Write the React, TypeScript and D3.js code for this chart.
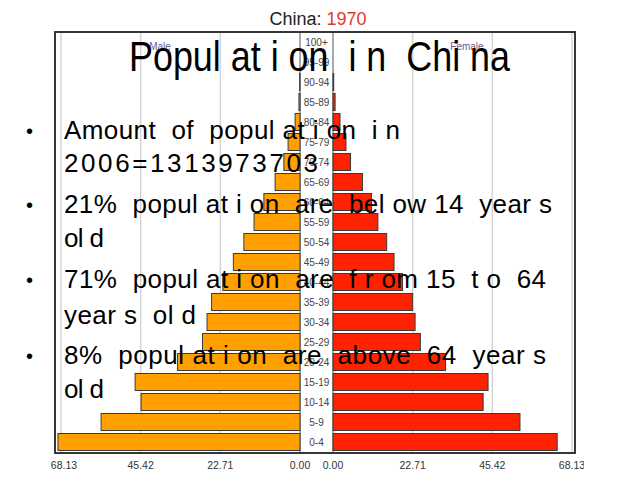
import React from "react";
import * as d3 from "d3";

const ages = ["0-4","5-9","10-14","15-19","20-24","25-29","30-34","35-39","40-44","45-49","50-54","55-59","60-64","65-69","70-74","75-79","80-84","85-89","90-94","95-99","100+"];
const male = [69.0,56.7,45.3,47.0,34.9,27.8,26.5,25.2,22.0,19.0,16.0,13.1,10.3,7.1,4.6,3.4,1.4,0.3,0.1,0,0];
const female = [63.9,53.3,42.8,44.2,32.1,24.9,23.4,22.7,19.8,17.4,15.3,12.8,11.0,8.4,5.0,3.7,2.0,0.6,0.2,0,0];
const tickValues = [0, 22.71, 45.42, 68.13];
const chartTitle = "China: ";
const chartYear = "1970";
const slideTitle = "Popul at i on  i n  Chi na";
const bulletLines = [
  { text: "Amount  of  popul at i on  i n", bullet: true },
  { text: "2006=1313973703", bullet: false },
  { text: "21%  popul at i on  are  bel ow 14  year s", bullet: true },
  { text: "ol d", bullet: false },
  { text: "71%  popul at i on  are  f r om 15  t o  64", bullet: true },
  { text: "year s  ol d", bullet: false },
  { text: "8%  popul at i on  are  above  64  year s", bullet: true },
  { text: "ol d", bullet: false },
];
const lineBaselines = [139, 172, 213, 247, 288, 324, 364, 398];
const lineLengths = [336, 254, 488, 40, 482, 132, 482, 40];

export default function App() {
  const W = 638, H = 478;
  const top = 32, bottom = 452;
  const y = d3.scaleBand<string>().domain([...ages].reverse()).range([top, bottom]).paddingInner(0.15).paddingOuter(0.075);
  const xM = d3.scaleLinear().domain([0, 68.13]).range([300, 61]);
  const xF = d3.scaleLinear().domain([0, 68.13]).range([333, 572]);
  const fmt = d3.format(".2f");
  const font = "'Liberation Sans', Arial, sans-serif";

  return (
    <svg width={W} height={H} style={{ position: "fixed", left: 0, top: 0, background: "#fff" }}>
      <defs>
        <clipPath id="imgclip"><rect x={0} y={0} width={584} height={H} /></clipPath>
      </defs>
      <rect x={0} y={0} width={W} height={H} fill="#fff" />
      <g clipPath="url(#imgclip)">
        <text x={318} y={25} textAnchor="middle" fontFamily={font} fontSize={18}>
          <tspan fill="#222">{chartTitle}</tspan>
          <tspan fill="#e2382c">{chartYear}</tspan>
        </text>
        {tickValues.slice(1).map((t) => (
          <g key={"g" + t}>
            <line x1={xM(t)} x2={xM(t)} y1={top} y2={bottom} stroke="#d4d4d4" strokeWidth={1.5} />
            <line x1={xF(t)} x2={xF(t)} y1={top} y2={bottom} stroke="#d4d4d4" strokeWidth={1.5} />
          </g>
        ))}
        <line x1={xM(0)} x2={xM(0)} y1={top} y2={bottom} stroke="#555" strokeWidth={1} />
        <line x1={xF(0)} x2={xF(0)} y1={top} y2={bottom} stroke="#555" strokeWidth={1} />
        {ages.map((a, i) => (
          <g key={a}>
            {male[i] > 0 && (
              <rect x={xM(male[i])} y={y(a)!} width={xM(0) - xM(male[i])} height={y.bandwidth()} fill="#FFA000" stroke="#3a3a3a" strokeWidth={1} />
            )}
            {female[i] > 0 && (
              <rect x={xF(0)} y={y(a)!} width={xF(female[i]) - xF(0)} height={y.bandwidth()} fill="#FF2200" stroke="#3a3a3a" strokeWidth={1} />
            )}
            <text x={316.5} y={y(a)! + y.bandwidth() / 2 + 3.5} textAnchor="middle" fontFamily={font} fontSize={10} fill="#444">{a}</text>
          </g>
        ))}
        <rect x={55} y={top} width={520} height={bottom - top + 1} fill="none" stroke="#222" strokeWidth={1.8} />
        <text x={160} y={50} textAnchor="middle" fontFamily={font} fontSize={10} fill="#6b5c8c">Male</text>
        <text x={467} y={50} textAnchor="middle" fontFamily={font} fontSize={10} fill="#6b5c8c">Female</text>
        {tickValues.map((t) => (
          <g key={"t" + t}>
            <text x={t === 68.13 ? 64 : xM(t)} y={469} textAnchor="middle" fontFamily={font} fontSize={10.5} fill="#333">{fmt(t)}</text>
            <text x={xF(t)} y={469} textAnchor="middle" fontFamily={font} fontSize={10.5} fill="#333">{fmt(t)}</text>
          </g>
        ))}
      </g>
      <text x={129} y={71} fontFamily={font} fontSize={42} fill="#000" textLength={381} lengthAdjust="spacingAndGlyphs" style={{ whiteSpace: "pre" }}>{slideTitle}</text>
      {bulletLines.map((l, i) => (
        <g key={"l" + i}>
          {l.bullet && <text x={26} y={lineBaselines[i] - 1} fontFamily={font} fontSize={20} fill="#000">•</text>}
          <text x={64} y={lineBaselines[i]} fontFamily={font} fontSize={26} fill="#000" textLength={lineLengths[i]} lengthAdjust="spacing" style={{ whiteSpace: "pre" }}>{l.text}</text>
        </g>
      ))}
    </svg>
  );
}
